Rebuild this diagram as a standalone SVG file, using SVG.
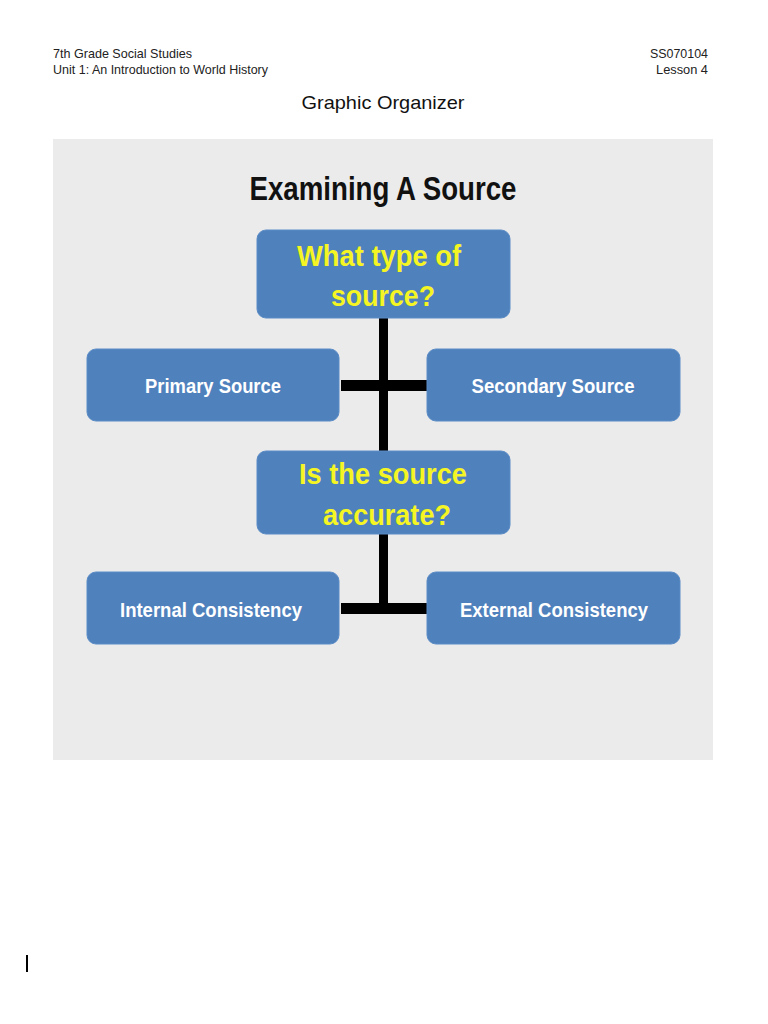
<svg xmlns="http://www.w3.org/2000/svg" width="768" height="1024" viewBox="0 0 768 1024">
<style>
.hdr{font-family:"Liberation Sans",Arial,sans-serif;font-size:13px;fill:#222}
.box{fill:#4f81bd;stroke:#5b8cc6;stroke-width:1}
.q{font-family:"Liberation Sans",Arial,sans-serif;font-weight:bold;font-size:30px;fill:#f5f523;text-anchor:middle}
.a{font-family:"Liberation Sans",Arial,sans-serif;font-weight:bold;font-size:20px;fill:#ffffff;text-anchor:middle}
.ln{fill:#000}
</style>
<rect width="768" height="1024" fill="#ffffff"/>
<text class="hdr" x="53" y="58" textLength="139" lengthAdjust="spacingAndGlyphs">7th Grade Social Studies</text>
<text class="hdr" x="53" y="74" textLength="215" lengthAdjust="spacingAndGlyphs">Unit 1: An Introduction to World History</text>
<text class="hdr" x="708" y="58" text-anchor="end" textLength="58" lengthAdjust="spacingAndGlyphs">SS070104</text>
<text class="hdr" x="708" y="74" text-anchor="end" textLength="52" lengthAdjust="spacingAndGlyphs">Lesson 4</text>
<text x="383" y="109" text-anchor="middle" font-family="Liberation Sans,Arial,sans-serif" font-size="19" fill="#111" textLength="163" lengthAdjust="spacingAndGlyphs">Graphic Organizer</text>
<rect x="53" y="139" width="660" height="621" fill="#ebebeb"/>
<text x="383" y="200" text-anchor="middle" font-family="Liberation Sans,Arial,sans-serif" font-weight="bold" font-size="34" fill="#111" textLength="267" lengthAdjust="spacingAndGlyphs">Examining A Source</text>
<g id="connectors">
<rect class="ln" x="379" y="318" width="9" height="133"/>
<rect class="ln" x="341" y="380" width="86" height="11"/>
<rect class="ln" x="379" y="534" width="9" height="74"/>
<rect class="ln" x="341" y="603" width="86" height="11"/>
</g>
<g id="n-type">
<rect class="box" x="257" y="230" width="253" height="88" rx="9"/>
<text class="q" x="379" y="266" textLength="164" lengthAdjust="spacingAndGlyphs">What type of</text>
<text class="q" x="383" y="306" textLength="104" lengthAdjust="spacingAndGlyphs">source?</text>
</g>
<g id="n-primary">
<rect class="box" x="87" y="349" width="252" height="72" rx="9"/>
<text class="a" x="213" y="393" textLength="136" lengthAdjust="spacingAndGlyphs">Primary Source</text>
</g>
<g id="n-secondary">
<rect class="box" x="427" y="349" width="253" height="72" rx="9"/>
<text class="a" x="553" y="393" textLength="163" lengthAdjust="spacingAndGlyphs">Secondary Source</text>
</g>
<g id="n-accurate">
<rect class="box" x="257" y="451" width="253" height="83" rx="9"/>
<text class="q" x="383" y="484" textLength="168" lengthAdjust="spacingAndGlyphs">Is the source</text>
<text class="q" x="387" y="525" textLength="128" lengthAdjust="spacingAndGlyphs">accurate?</text>
</g>
<g id="n-internal">
<rect class="box" x="87" y="572" width="252" height="72" rx="9"/>
<text class="a" x="211" y="617" textLength="182" lengthAdjust="spacingAndGlyphs">Internal Consistency</text>
</g>
<g id="n-external">
<rect class="box" x="427" y="572" width="253" height="72" rx="9"/>
<text class="a" x="554" y="617" textLength="188" lengthAdjust="spacingAndGlyphs">External Consistency</text>
</g>
<rect x="26" y="955" width="2" height="17" fill="#000"/>
</svg>
